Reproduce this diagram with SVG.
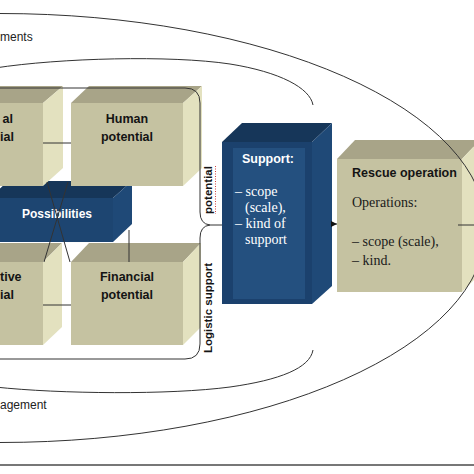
<svg xmlns="http://www.w3.org/2000/svg" width="474" height="474" viewBox="0 0 474 474">
<defs>
<style>
.bf{fill:#c5c2a1}
.bt{fill:#a8a488}
.bs{fill:#e3e1bf}
.nf{fill:#1d4571}
.nt{fill:#163659}
.ns{fill:#1f4977}
.lbl{font-family:"Liberation Sans",Arial,sans-serif;font-weight:bold;font-size:12.5px;fill:#141414}
.wl{font-family:"Liberation Sans",Arial,sans-serif;font-weight:bold;fill:#ffffff}
.ser{font-family:"Liberation Serif","Times New Roman",serif;font-size:14px}
.reg{font-family:"Liberation Sans",Arial,sans-serif;font-size:12px;fill:#222}
.ln{fill:none;stroke:#333;stroke-width:1}
</style>
<marker id="arr" viewBox="0 0 6 6" refX="6" refY="3" markerWidth="6" markerHeight="6" markerUnits="userSpaceOnUse" orient="auto">
<path d="M0,0 L6,3 L0,6 Z" fill="#111"/>
</marker>
</defs>
<rect width="474" height="474" fill="#ffffff"/>

<!-- outer labels -->
<text class="reg" x="0" y="41">ments</text>
<text class="reg" x="0" y="409">agement</text>

<!-- Possibilities (behind top boxes) -->
<g id="possibilities">
<polygon class="nt" points="-10,198 8,181 132,181 113,198"/>
<rect class="nf" x="-10" y="198" width="123" height="44"/>
<polygon class="ns" points="113,198 132,181 132,224 113,242"/>
<text class="wl" x="57" y="218" font-size="12" text-anchor="middle">Possibilities</text>
</g>

<!-- top-left box -->
<g id="box-top-left">
<polygon class="bt" points="-70,103 -52,86 63,86 43,103"/>
<rect class="bf" x="-70" y="103" width="113" height="83"/>
<polygon class="bs" points="43,103 63,86 63,168 43,186"/>
<text class="lbl" x="13" y="123" text-anchor="end">al</text>
<text class="lbl" x="14" y="141" text-anchor="end">ial</text>
</g>

<!-- Human potential -->
<g id="human-potential">
<polygon class="bt" points="71,103 89,86 202,86 183,103"/>
<rect class="bf" x="71" y="103" width="112" height="83"/>
<polygon class="bs" points="183,103 202,86 202,168 183,186"/>
<text class="lbl" x="127" y="123" text-anchor="middle">Human</text>
<text class="lbl" x="127" y="141" text-anchor="middle">potential</text>
</g>

<!-- bottom-left box -->
<g id="box-bottom-left">
<polygon class="bt" points="-70,262 -52,243 62,243 43,262"/>
<rect class="bf" x="-70" y="262" width="113" height="83"/>
<polygon class="bs" points="43,262 62,243 62,327 43,345"/>
<text class="lbl" x="0" y="281">tive</text>
<text class="lbl" x="14" y="299" text-anchor="end">ial</text>
</g>

<!-- Financial potential -->
<g id="financial-potential">
<polygon class="bt" points="71,262 89,243 201,243 183,262"/>
<rect class="bf" x="71" y="262" width="112" height="83"/>
<polygon class="bs" points="183,262 201,243 201,327 183,345"/>
<text class="lbl" x="127" y="281" text-anchor="middle">Financial</text>
<text class="lbl" x="127" y="299" text-anchor="middle">potential</text>
</g>

<!-- Support -->
<g id="support">
<polygon class="nt" points="222,142 242,123 332,123 312,142"/>
<rect x="222" y="142" width="90" height="162" fill="#1b416d"/>
<polygon class="ns" points="312,142 332,123 332,286 312,304"/>
<rect x="233" y="148" width="72" height="151" fill="#24507f"/>
<text class="wl" x="268" y="163" font-size="12.5" text-anchor="middle">Support:</text>
<g class="ser" fill="#ffffff" font-size="14.5">
<text x="235" y="196">– scope</text>
<text x="245" y="212">(scale),</text>
<text x="235" y="228">– kind of</text>
<text x="245" y="244">support</text>
</g>
</g>

<!-- Rescue operation -->
<g id="rescue-operation">
<polygon class="bt" points="337,159 355,140 480,140 462,159"/>
<rect class="bf" x="337" y="159" width="125" height="133"/>
<polygon class="bs" points="462,159 480,140 480,274 462,292"/>
<text class="lbl" x="352" y="177" font-size="12">Rescue operation</text>
<g class="ser" fill="#1a1a1a">
<text x="352" y="207">Operations:</text>
<text x="352" y="246">– scope (scale),</text>
<text x="352" y="265">– kind.</text>
</g>
</g>

<!-- bracket labels -->
<g id="bracket-labels">
<text class="wl" style="fill:#141414" font-size="11.5" text-anchor="middle" transform="translate(212,190) rotate(-90)">potential</text>
<line x1="215.5" y1="166" x2="215.5" y2="214" stroke="#d04040" stroke-width="1" stroke-dasharray="1,1.5"/>
<text class="wl" style="fill:#141414" font-size="11.5" text-anchor="middle" transform="translate(212,308) rotate(-90)">Logistic support</text>
</g>

<!-- connectors -->
<g id="connectors">
<line class="ln" x1="43" y1="143" x2="71" y2="143"/>
<line class="ln" x1="43" y1="305" x2="71" y2="305"/>
<line class="ln" x1="47" y1="182" x2="70" y2="262"/>
<line class="ln" x1="68" y1="182" x2="44" y2="262"/>
<line class="ln" x1="129" y1="230" x2="129" y2="262"/>
<path class="ln" d="M-5,88 H185 Q200,88 200,103 V212 Q200,224 210,225 Q200,226 200,238 V344 Q200,359 185,359 H-5"/>
<line class="ln" x1="210" y1="225" x2="222" y2="225"/>
<line class="ln" x1="332" y1="224" x2="337" y2="224" marker-end="url(#arr)"/>
<line class="ln" x1="458" y1="225" x2="474" y2="225"/>
<path class="ln" d="M-5,68 C60,58 170,55 230,64 C280,72 310,88 313,105"/>
<path class="ln" d="M313,350 C310,368 280,380 230,387 C170,395 60,394 -5,387"/>
<ellipse class="ln" cx="0" cy="228" rx="486" ry="214.5"/>
<line x1="0" y1="465" x2="474" y2="465" stroke="#4a4a4a" stroke-width="1.5"/>
</g>
</svg>
